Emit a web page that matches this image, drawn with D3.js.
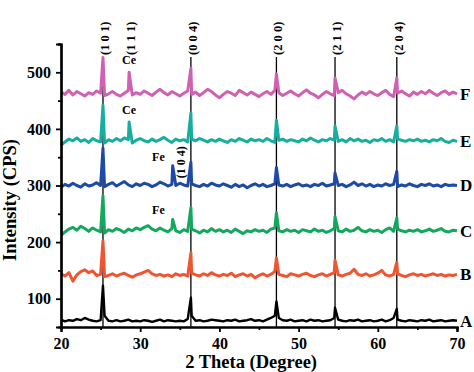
<!DOCTYPE html>
<html>
<head>
<meta charset="utf-8">
<script src="https://cdn.jsdelivr.net/npm/d3@7"></script>
<style>
  body { margin: 0; background: #fff; }
  svg { display: block; font-family: "Liberation Serif", "Times New Roman", serif; font-weight: bold; }
</style>
</head>
<body>
<svg></svg>
<script>
// Defining the margins
var margin = { top: 44, right: 17, bottom: 45, left: 61 },
    width = 474 - margin.left - margin.right,
    height = 372 - margin.top - margin.bottom;

// 2 theta grid, every 0.5 degree from 20 to 70
var theta = d3.range(101).map(function(i) { return 20 + i * 0.5; });

// sharp reflections, added on top of the grid
var peakTheta = [25.3, 28.6, 34.1, 36.4, 47.2, 54.6, 62.4];

var seriesNames = ["A", "B", "C", "D", "E", "F"];
var seriesColors = ["#000000", "#ee5530", "#13a85e", "#1d4aa6", "#17ae9f", "#d060b2"];

var valuesA = [
  63, 60, 62, 61, 64, 62, 66, 63, 61, 60,
  62, 70, 61, 60, 62, 60, 61, 63, 60, 61,
  60, 62, 61, 59, 61, 63, 60, 62, 61, 60,
  61, 60, 64, 70, 61, 62, 60, 61, 63, 62,
  61, 60, 62, 61, 63, 60, 61, 62, 64, 61,
  62, 60, 63, 66, 70, 66, 62, 61, 63, 60,
  61, 62, 60, 63, 61, 62, 60, 61, 62, 66,
  63, 61, 60, 62, 61, 63, 60, 61, 62, 60,
  61, 63, 60, 62, 66, 63, 61, 60, 62, 61,
  60, 62, 61, 63, 60, 61, 62, 60, 61, 62,
  61];
var valuesB = [
  144, 140, 146, 131, 142, 148, 151, 146, 149, 141,
  143, 139, 141, 144, 140, 143, 145, 141, 138, 142,
  144, 147, 150, 144, 141, 143, 140, 142, 139, 144,
  141, 143, 140, 145, 142, 140, 144, 141, 146, 142,
  140, 143, 141, 145, 139, 142, 144, 140, 143, 137,
  141, 144, 140, 143, 148, 143, 141, 139, 144, 142,
  140, 143, 145, 141, 139, 142, 144, 140, 143, 146,
  142, 140, 143, 145, 152, 143, 141, 144, 140, 142,
  145, 150, 142, 140, 143, 144, 141, 139, 142, 144,
  141, 143, 140, 142, 144, 141, 143, 140, 142, 141,
  143];
var valuesC = [
  212, 218, 223, 226, 221, 228, 224, 219, 225, 221,
  218, 216, 222, 219, 224, 221, 217, 223, 220, 225,
  222, 226, 229, 223, 220, 225, 221, 218, 224, 220,
  217, 222, 219, 223, 220, 216, 221, 218, 224, 219,
  222, 218, 221, 217, 223, 219, 215, 220, 218, 222,
  219, 221, 217, 223, 225, 220, 218, 222, 219, 221,
  217, 222, 220, 218, 223, 219, 221, 217, 220, 224,
  220, 218, 223, 219, 221, 226, 220, 218, 222, 219,
  221, 217, 222, 225, 219, 223, 220, 218, 221, 219,
  222, 218, 220, 223, 219, 221, 224, 219, 218, 221,
  220];
var valuesD = [
  297, 302, 299, 304, 300, 297, 303, 299, 301, 305,
  300, 298, 302, 305, 299, 303, 307, 301, 298, 303,
  300, 304, 302, 298, 301, 306, 303, 299, 302, 300,
  304, 301, 299, 303, 300, 298, 302, 299, 304, 301,
  299, 303, 300, 297, 302, 298, 301, 296, 300, 303,
  299, 302, 298, 300, 303, 301, 299, 302, 298, 301,
  303, 299, 301, 298, 302, 300, 304, 299, 301, 303,
  300, 302, 298, 301, 306, 300, 303, 299, 302, 298,
  301, 299, 303, 300, 302, 298, 301, 299, 303, 300,
  298, 302, 300, 303, 299, 301, 298, 302, 300, 301,
  300];
var valuesE = [
  371, 377, 382, 379, 384, 378, 381, 376, 383, 379,
  377, 375, 381, 378, 383, 379, 384, 381, 375, 380,
  383, 379, 377, 382, 378, 381, 385, 380, 376, 382,
  379, 381, 377, 382, 379, 383, 380, 377, 381, 378,
  382, 379, 376, 381, 378, 383, 380, 377, 382, 379,
  381, 378, 383, 379, 376, 380, 382, 378, 381, 379,
  377, 382, 379, 384, 380, 377, 381, 379, 383, 380,
  378, 381, 377, 383, 379, 382, 378, 380, 376, 381,
  379, 383, 378, 381, 377, 382, 380, 378, 381, 379,
  382, 378, 380, 377, 381, 379, 383, 378, 376, 380,
  378];
var valuesF = [
  465, 461, 468, 460, 466, 462, 458, 464, 461, 467,
  463, 459, 462, 466, 461, 458, 463, 468, 460, 464,
  461, 467, 463, 459, 465, 470, 464, 460, 466, 462,
  458, 463, 467, 461, 465, 459, 464, 470, 466, 460,
  455, 461, 466, 463, 459, 468, 464, 460, 465, 461,
  457, 462, 466, 461, 468, 464, 459, 463, 467, 462,
  458, 464, 469, 463, 460, 455, 461, 466, 462, 459,
  464, 468, 462, 458, 453, 460, 465, 461, 466, 462,
  459, 464, 468, 461, 457, 463, 467, 462, 458, 465,
  461, 466, 462, 468, 463, 459, 464, 467, 461, 465,
  462];

// peak tops for each series at peakTheta (null = no reflection)
var peaksA = [123, null, null, 102, 95, 84, 82];
var peaksB = [202, null, null, 181, 172, 168, 164];
var peaksC = [282, null, 240, 261, 252, 245, 243];
var peaksD = [366, null, 335, 341, 332, 322, 325];
var peaksE = [442, 412, null, 428, 415, 405, 405];
var peaksF = [526, 500, null, 507, 497, 490, 490];

var allValues = [valuesA, valuesB, valuesC, valuesD, valuesE, valuesF];
var allPeaks = [peaksA, peaksB, peaksC, peaksD, peaksE, peaksF];

// reference lines and their Miller indices
var refTheta = [25.3, 36.4, 47.2, 54.6, 62.4];
var hklLabels = [
  { t: 25.3, text: "(1 0 1)" }, { t: 28.6, text: "(1 1 1)" }, { t: 36.4, text: "(0 0 4)" },
  { t: 47.2, text: "(2 0 0)" }, { t: 54.6, text: "(2 1 1)" }, { t: 62.4, text: "(2 0 4)" }
];

var xTicks = [20, 30, 40, 50, 60, 70];
var yTicks = [100, 200, 300, 400, 500];

var svg = d3.select("svg")
    .attr("width", width + margin.left + margin.right)
    .attr("height", height + margin.top + margin.bottom);

var g = svg.append("g")
    .attr("transform", "translate(" + margin.left + "," + margin.top + ")");

// Set the X and Y scales
var xScale = d3.scaleLinear().domain([20, 70]).range([0, width]);
var yScale = d3.scaleLinear().domain([50, 550]).range([height, 0]);

// build each pattern from the grid plus its peaks
var patterns = allValues.map(function(vals, s) {
  var pts = theta.map(function(t, i) { return [t, vals[i]]; });
  allPeaks[s].forEach(function(p, k) {
    if (p != null) pts.push([peakTheta[k], p]);
  });
  pts.sort(function(a, b) { return a[0] - b[0]; });
  return pts;
});

var line = d3.line()
    .x(function(d) { return xScale(d[0]); })
    .y(function(d) { return yScale(d[1]); });

// reference lines
g.selectAll(".ref")
    .data(refTheta)
    .enter().append("line")
    .attr("x1", function(d) { return xScale(d); })
    .attr("x2", function(d) { return xScale(d); })
    .attr("y1", height)
    .attr("y2", 13)
    .attr("stroke", "#000")
    .attr("stroke-width", 1.3);

// patterns
g.selectAll(".pattern")
    .data(patterns)
    .enter().append("path")
    .attr("d", line)
    .attr("fill", "none")
    .attr("stroke", function(d, i) { return seriesColors[i]; })
    .attr("stroke-width", function(d, i) { return i === 0 ? 2.4 : 3; })
    .attr("stroke-linejoin", "round");

// series letters
g.selectAll(".name")
    .data(seriesNames)
    .enter().append("text")
    .attr("x", width + 3)
    .attr("y", function(d, i) { return yScale(allValues[i][100]); })
    .attr("dy", "0.35em")
    .attr("font-size", 17)
    .text(function(d) { return d; });

// Miller indices
g.selectAll(".hkl")
    .data(hklLabels)
    .enter().append("text")
    .attr("transform", function(d) { return "translate(" + (xScale(d.t) + 6) + ",11) rotate(-90)"; })
    .attr("font-size", 12.5)
    .text(function(d) { return d.text; });

// phase notes
var notes = [
  { t: 28.6, v: 514, text: "Ce" }, { t: 28.6, v: 426, text: "Ce" },
  { t: 32.3, v: 343, text: "Fe" }, { t: 32.3, v: 250, text: "Fe" }
];
g.selectAll(".note")
    .data(notes)
    .enter().append("text")
    .attr("x", function(d) { return xScale(d.t); })
    .attr("y", function(d) { return yScale(d.v); })
    .attr("text-anchor", "middle")
    .attr("font-size", 12)
    .text(function(d) { return d.text; });
g.append("text")
    .attr("transform", "translate(" + (xScale(35.2) + 4) + "," + yScale(313) + ") rotate(-90)")
    .attr("font-size", 12)
    .text("(1 0 4)");

// Defining the axes
var xAxis = d3.axisBottom(xScale).tickValues(xTicks).tickSize(5).tickPadding(6);
var yAxis = d3.axisLeft(yScale).tickValues(yTicks).tickSize(5).tickPadding(5);
var xMinor = d3.axisBottom(xScale).tickValues(d3.range(25, 70, 10)).tickSize(3).tickFormat("");
var yMinor = d3.axisLeft(yScale).tickValues([150, 250, 350, 450, 550]).tickSize(3).tickFormat("");

[[xAxis, "translate(0," + height + ")"], [xMinor, "translate(0," + height + ")"],
 [yAxis, null], [yMinor, null]].forEach(function(a) {
  var ax = g.append("g").attr("class", "axis").call(a[0]);
  if (a[1]) ax.attr("transform", a[1]);
  ax.select(".domain").attr("stroke-width", 2.2);
  ax.selectAll(".tick line").attr("stroke-width", 1.8);
  ax.selectAll("text")
    .attr("font-family", "Liberation Serif, serif")
    .attr("font-weight", "bold")
    .attr("font-size", 16)
    .attr("fill", "#000");
});

// axis titles
svg.append("text")
    .attr("x", margin.left + xScale(44))
    .attr("y", 368)
    .attr("text-anchor", "middle")
    .attr("font-size", 18.5)
    .text("2 Theta (Degree)");

svg.append("text")
    .attr("transform", "translate(16," + 200 + ") rotate(-90)")
    .attr("text-anchor", "middle")
    .attr("font-size", 18.5)
    .text("Intensity (CPS)");
</script>
</body>
</html>
